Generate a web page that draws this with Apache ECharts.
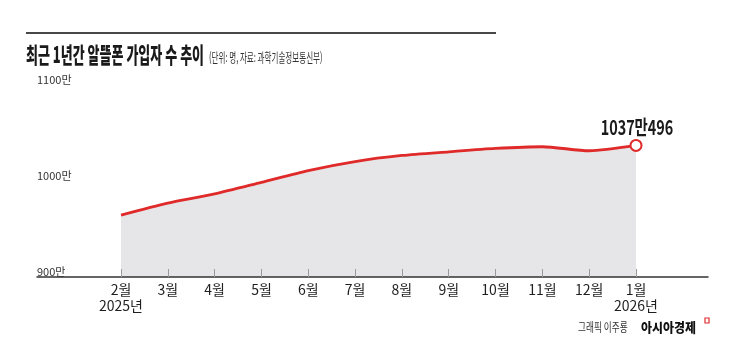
<!DOCTYPE html>
<html>
<head>
<meta charset="utf-8">
<script src="https://cdn.jsdelivr.net/npm/echarts@6/dist/echarts.min.js"></script>
<style>
  html, body { margin: 0; padding: 0; background: #fff; }
  #chart { width: 745px; height: 342px; }
</style>
</head>
<body>
<div id="chart"></div>
<script>
// 알뜰폰 가입자 수 (단위: 만 명)
const months = ['2월', '3월', '4월', '5월', '6월', '7월', '8월', '9월', '10월', '11월', '12월', '1월'];
const years = ['2025년', '', '', '', '', '', '', '', '', '', '', '2026년'];
const subscribers = [964.5, 977, 986.5, 998.6, 1010.9, 1020.3, 1026.6, 1030.4, 1033.9, 1035.7, 1031.5, 1037.0496];
const yTicks = [900, 1000, 1100];

const categories = months.map((m, i) => years[i] ? m + '\n' + years[i] : m);
const KR = '"Noto Sans CJK KR", "Noto Sans", sans-serif';

function manLabel(v) {
  const whole = Math.floor(v);
  const rest = Math.round((v - whole) * 10000);
  return rest ? whole + '만' + rest : whole + '만';
}

const last = subscribers.length - 1;
const seriesData = subscribers.map((v, i) => i === last ? {
  value: v,
  symbol: 'circle',
  symbolSize: 11,
  itemStyle: { color: '#fff', borderColor: '#e02a2a', borderWidth: 2 }
} : v);

const staticGraphics = [
  { type: 'rect', shape: { x: 26, y: 32, width: 470, height: 2 }, style: { fill: '#474747' } },
  {
    type: 'text', x: 26, y: 55, scaleX: 0.59,
    style: { text: '최근 1년간 알뜰폰 가입자 수 추이', font: '900 22px ' + KR, fill: '#1a1a1a', textVerticalAlign: 'middle' }
  },
  {
    type: 'text', x: 209, y: 57, scaleX: 0.58,
    style: { text: '(단위: 명, 자료: 과학기술정보통신부)', font: '13px ' + KR, fill: '#333', textVerticalAlign: 'middle' }
  },
  {
    type: 'text', x: 578, y: 327, scaleX: 0.72,
    style: { text: '그래픽 이주룡', font: '12px ' + KR, fill: '#333', textVerticalAlign: 'middle' }
  },
  {
    type: 'text', x: 641, y: 327, scaleX: 0.92,
    style: { text: '아시아경제', font: '900 13px ' + KR, fill: '#111', textVerticalAlign: 'middle' }
  },
  { type: 'rect', shape: { x: 705, y: 318, width: 4, height: 5 }, style: { fill: '#fff', stroke: '#e02a2a', lineWidth: 1.2 } }
];

const chart = echarts.init(document.getElementById('chart'), null, { renderer: 'canvas' });
chart.setOption({
  animation: false,
  backgroundColor: '#fff',
  grid: [
    { left: 121, right: 109, top: 85, bottom: 65 },
    { left: 37, right: 37, top: 85, bottom: 65 }
  ],
  xAxis: [
    {
      type: 'category', gridIndex: 0, data: categories, boundaryGap: false, z: 5,
      axisLine: { show: false },
      axisTick: { show: true, inside: true, length: 8, lineStyle: { color: '#9a9a9a', width: 1 } },
      axisLabel: { margin: 5, fontFamily: KR, fontSize: 14, lineHeight: 16, color: '#1f1f1f', interval: 0 }
    },
    {
      type: 'value', gridIndex: 1, min: 0, max: 1, z: 5,
      axisLine: { show: true, lineStyle: { color: '#333', width: 1.5 } },
      axisTick: { show: false }, axisLabel: { show: false }, splitLine: { show: false }
    }
  ],
  yAxis: [
    {
      type: 'value', gridIndex: 0, min: yTicks[0], max: yTicks[yTicks.length - 1], interval: 100,
      axisLine: { show: false }, axisTick: { show: false }, splitLine: { show: false },
      axisLabel: {
        margin: 84, align: 'left', verticalAlign: 'bottom', padding: 0,
        fontFamily: KR, fontSize: 11, color: '#333',
        formatter: v => v + '만'
      }
    },
    { type: 'value', gridIndex: 1, show: false, min: 0, max: 1 }
  ],
  series: [{
    type: 'line', xAxisIndex: 0, yAxisIndex: 0,
    data: seriesData,
    smooth: 0.25,
    showSymbol: true,
    symbol: 'none',
    lineStyle: { color: '#e02a2a', width: 2.8 },
    areaStyle: { color: '#e6e6e8', opacity: 1, origin: 'start' },
    z: 3
  }],
  graphic: staticGraphics
});

// 마지막 달 값 라벨: 시리즈 좌표계에서 위치를 얻어 가로로 좁힌 글꼴로 표시
const endPt = chart.convertToPixel({ seriesIndex: 0 }, [last, subscribers[last]]);
chart.setOption({
  graphic: staticGraphics.concat([{
    type: 'text', x: endPt[0] + 1, y: endPt[1] - 18, scaleX: 0.72,
    style: {
      text: manLabel(subscribers[last]), font: 'bold 20px ' + KR, fill: '#1a1a1a',
      textAlign: 'center', textVerticalAlign: 'middle'
    }
  }])
}, { replaceMerge: ['graphic'] });
</script>
</body>
</html>
